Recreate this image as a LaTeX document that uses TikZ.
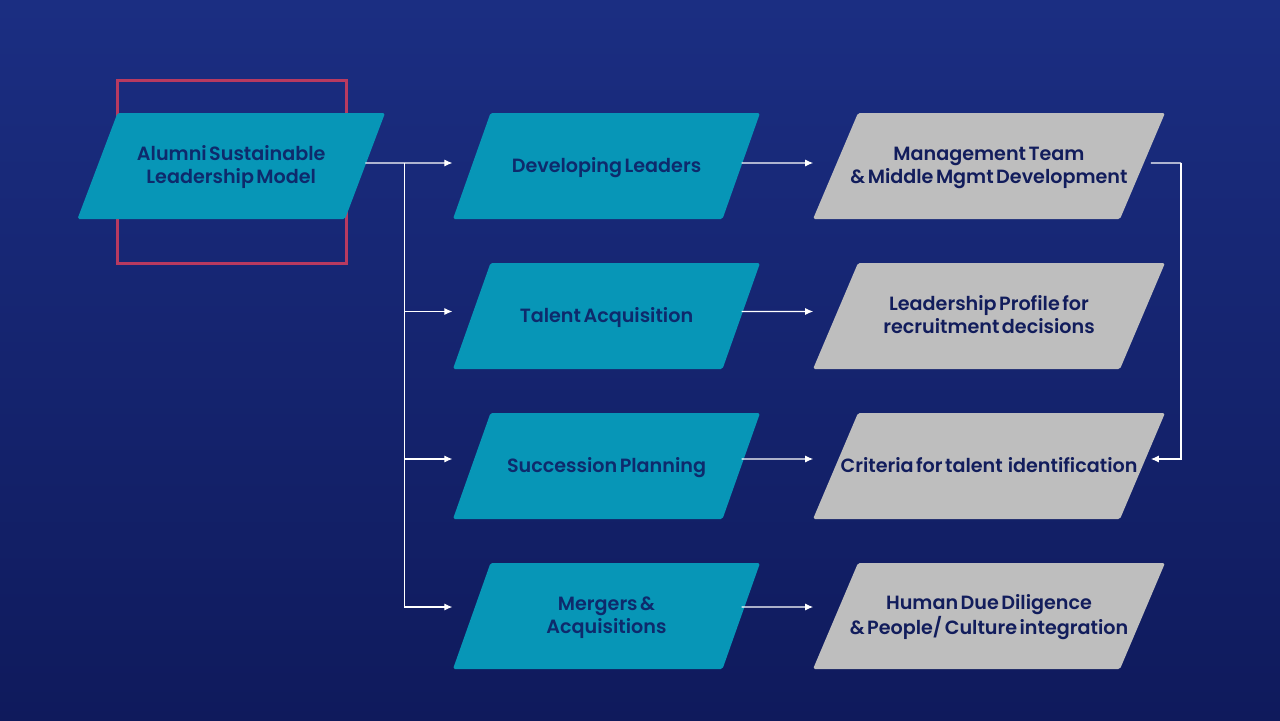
\documentclass[tikz,border=0pt]{standalone}
\usepackage{fontspec}
\setmainfont{Poppins}[BoldFont={Poppins SemiBold},WordSpace=0.55]
\usetikzlibrary{shapes.geometric,arrows.meta}
\definecolor{bgtop}{HTML}{1B2E82}
\definecolor{bgbottom}{HTML}{0F1A5C}
\definecolor{tealbox}{HTML}{0796B7}
\definecolor{greybox}{HTML}{BEBEBE}
\definecolor{framered}{HTML}{B83A60}
\definecolor{tealtext}{HTML}{0E2A6C}
\definecolor{greytext}{HTML}{121D5C}
\newlength{\unitpx}
\setlength{\unitpx}{0.02cm}
\newcommand{\boxtext}[2]{\makebox[#1\unitpx]{\rule[-46.7\unitpx]{0pt}{106\unitpx}\begin{tabular}{@{}c@{}}#2\end{tabular}}}
\tikzset{
    para/.style={trapezium, inner sep=0pt, rounded corners=1pt,
        font=\fontsize{10.9}{13.2}\selectfont\bfseries},
    teal/.style={para, fill=tealbox, text=tealtext,
        trapezium left angle=70.5, trapezium right angle=109.5},
    grey/.style={para, fill=greybox, text=greytext,
        trapezium left angle=67, trapezium right angle=113},
    link/.style={draw=white, line width=0.6pt},
    arrow/.style={link, -{Latex[length=4.5pt,width=4pt]}},
}
\begin{document}
\begin{tikzpicture}[x=0.02cm, y=-0.02cm]
    % Background
    \useasboundingbox (0,0) rectangle (1280,720);
    \shade[top color=bgtop, bottom color=bgbottom] (0,0) rectangle (1280,720);
    % Frame behind the first box
    \node[draw=framered, line width=1.7pt, minimum width=229\unitpx, minimum height=183\unitpx, inner sep=0pt] (frame) at (232,172) {};
    % First box
    \node[teal, trapezium left angle=69.3, trapezium right angle=110.7] (model) at (231.25,166) {\boxtext{227.5}{Alumni Sustainable\\Leadership Model}};
    % Middle column
    \node[teal] (leaders) at (606.5,166) {\boxtext{232}{Developing Leaders}};
    \node[teal] (talent) at (606.5,316) {\boxtext{232}{Talent Acquisition}};
    \node[teal] (succession) at (606.5,466) {\boxtext{232}{Succession Planning}};
    \node[teal] (mergers) at (606.5,616) {\boxtext{232}{Mergers \&\\Acquisitions}};
    % Right column
    \node[grey] (team) at (989,166) {\boxtext{262}{Management Team\\\& Middle Mgmt Development}};
    \node[grey] (profile) at (989,316) {\boxtext{262}{Leadership Profile for\\recruitment decisions}};
    \node[grey] (criteria) at (989,466) {\boxtext{262}{Criteria for talent\ \ identification}};
    \node[grey] (diligence) at (989,616) {\boxtext{262}{Human Due Diligence\\\& People/ Culture integration}};
    % Branches from the first box
    \coordinate (trunk) at (404.5,163);
    \draw[arrow] ([shift={(0,-3)}]model.east) -- ([shift={(-19,-3)}]leaders.west);
    \draw[arrow] (trunk) |- ([shift={(-19,-4.5)}]talent.west);
    \draw[arrow] (trunk) |- ([shift={(-19,-7)}]succession.west);
    \draw[arrow] (trunk) |- ([shift={(-19,-9)}]mergers.west);
    % Middle to right
    \draw[arrow] ([shift={(0,-3)}]leaders.east) -- ([shift={(-22,-3)}]team.west);
    \draw[arrow] ([shift={(0,-4.5)}]talent.east) -- ([shift={(-22,-4.5)}]profile.west);
    \draw[arrow] ([shift={(0,-7)}]succession.east) -- ([shift={(-22,-7)}]criteria.west);
    \draw[arrow] ([shift={(0,-9)}]mergers.east) -- ([shift={(-22,-9)}]diligence.west);
    % Return on the right
    \coordinate (bend) at (1181,163);
    \draw[link] ([shift={(8,-3)}]team.east) -- (bend);
    \draw[arrow] (bend) |- ([shift={(8,-7)}]criteria.east);
\end{tikzpicture}
\end{document}
